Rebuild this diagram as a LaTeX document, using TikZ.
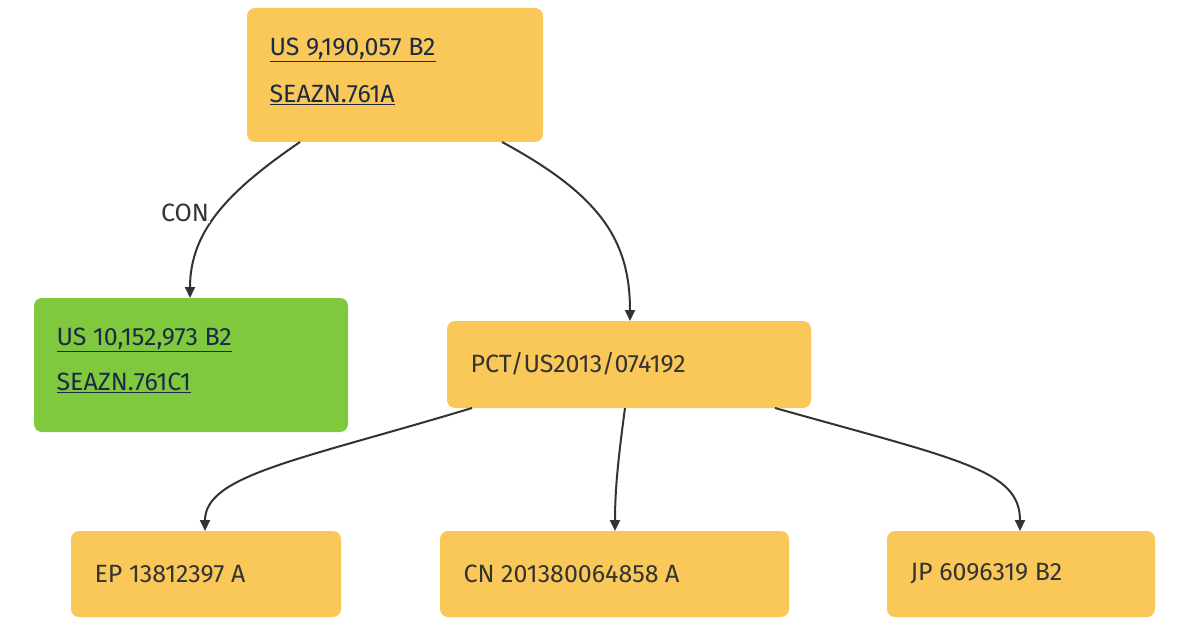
\documentclass[tikz,border=0pt]{standalone}
\usepackage{fontspec}
\setmainfont{Fira Sans}
\usetikzlibrary{arrows.meta}
\definecolor{boxy}{HTML}{F9C858}
\definecolor{boxg}{HTML}{80C93F}
\definecolor{lnk}{HTML}{1C2B45}
\definecolor{txt}{HTML}{333333}
\begin{document}
\begin{tikzpicture}[x=1pt,y=-1pt,
  box/.style={draw=none,rounded corners=8pt,inner sep=0pt,anchor=north west},
  lbl/.style={anchor=west,font=\fontsize{25}{30}\selectfont,text=txt},
  ulbl/.style={anchor=west,font=\fontsize{25}{30}\selectfont,text=lnk},
  edge/.style={draw=txt,line width=2pt,-{Triangle[length=11pt,width=10pt]}}]
\useasboundingbox (0,0) rectangle (1196,628);
\newcommand{\ul}[1]{\underline{#1}}
\fill[boxy,rounded corners=8pt] (247,8) rectangle (543,142);
\node[ulbl] (a1) at (266,50) {\ul{US 9,190,057 B2}};
\node[ulbl] (a2) at (266,95) {\ul{SEAZN.761A}};
\coordinate (a) at (395,75);
\fill[boxg,rounded corners=8pt] (34,298) rectangle (348,432);
\node[ulbl] (b1) at (53,340) {\ul{US 10,152,973 B2}};
\node[ulbl] (b2) at (53,383) {\ul{SEAZN.761C1}};
\fill[boxy,rounded corners=8pt] (447,321) rectangle (811,408);
\node[lbl] (c) at (467,364) {PCT/US2013/074192};
\fill[boxy,rounded corners=8pt] (71,531) rectangle (341,617);
\node[lbl] (d) at (91,574) {EP 13812397 A};
\fill[boxy,rounded corners=8pt] (440,531) rectangle (789,617);
\node[lbl] (e) at (460,574) {CN 201380064858 A};
\fill[boxy,rounded corners=8pt] (887,531) rectangle (1155,617);
\node[lbl] (f) at (907,574) {JP 6096319 B2};
\coordinate (as1) at (300,142); \coordinate (bt) at (190,298);
\coordinate (as2) at (502,142); \coordinate (ct) at (630,321);
\coordinate (cs1) at (472,408); \coordinate (dt) at (205,531);
\coordinate (cs2) at (625,408); \coordinate (et) at (615,531);
\coordinate (cs3) at (775,408); \coordinate (ft) at (1020,531);
\draw[edge] (as1) .. controls (230,190) and (190,230) .. (bt);
\node[fill=white,inner sep=1pt,font=\fontsize{25}{30}\selectfont,text=txt] (con) at (185,213) {CON};
\draw[edge] (as2) .. controls (600,195) and (630,240) .. (ct);
\draw[edge] (cs1) .. controls (300,460) and (205,475) .. (dt);
\draw[edge] (cs2) .. controls (618,460) and (615,490) .. (et);
\draw[edge] (cs3) .. controls (960,460) and (1020,470) .. (ft);
\end{tikzpicture}
\end{document}
